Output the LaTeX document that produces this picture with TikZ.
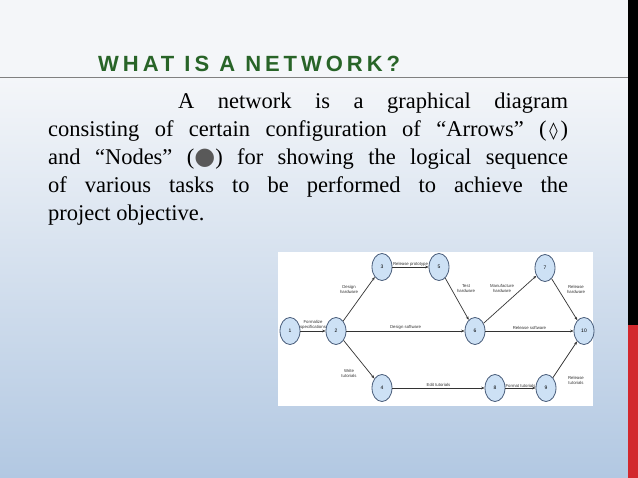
\documentclass[tikz,border=0pt]{standalone}
\usepackage{fontspec}
\setmainfont{Liberation Serif}
\setsansfont{Liberation Sans}
\newfontfamily\dejavu{DejaVu Sans}
\usetikzlibrary{arrows.meta,shapes.geometric}
\definecolor{titlegreen}{RGB}{40,100,40}
\definecolor{bgtop}{RGB}{244,246,249}
\definecolor{bgbot}{RGB}{178,200,226}
\definecolor{nodefill}{RGB}{205,225,245}
\definecolor{nodeline}{RGB}{70,90,120}
\definecolor{barred}{RGB}{210,40,45}
\tikzset{
 ev/.style={ellipse,draw=nodeline,fill=nodefill,line width=0.8pt,minimum width=20pt,minimum height=27pt,inner sep=0pt,font=\sffamily\fontsize{5}{5}\selectfont},
 act/.style={-{Stealth[length=3.5pt]},line width=0.7pt,black!80},
 lab/.style={font=\sffamily\fontsize{4.3}{5}\selectfont,align=center,text=black!80,inner sep=1pt}
}
\begin{document}
\begin{tikzpicture}[x=1pt,y=-1pt]
\useasboundingbox (0,0) rectangle (638,478);
\shade[top color=bgtop,bottom color=bgbot] (0,78) rectangle (628,478);
\fill[bgtop] (0,0) rectangle (628,78);
\draw[gray,line width=1pt] (0,78) -- (628,78);
\fill[black] (628,0) rectangle (638,325);
\fill[barred] (628,325) rectangle (638,478);
\node[font=\sffamily\bfseries\fontsize{22}{24}\selectfont\addfontfeature{LetterSpace=18},text=titlegreen,anchor=west,inner sep=0pt] (title) at (98,64) {WHAT IS A NETWORK?};
\node[anchor=north west,inner sep=0pt,text width=520pt,align=justify,font=\fontsize{22.5}{27.8}\selectfont] (body) at (48,93)
{\hspace*{130pt}A network is a graphical diagram\linebreak consisting of certain configuration of “Arrows” ({\dejavu\fontsize{17}{17}\selectfont\,◊\,})\linebreak and “Nodes” ({\dejavu\fontsize{24}{24}\selectfont\color{gray!70!black}●}) for showing the logical sequence\linebreak of various tasks to be performed to achieve the\linebreak project objective.};
\fill[white] (278,252) rectangle (593,406);
\node[ev] (n1) at (290,331) {1};
\node[ev] (n2) at (336,331) {2};
\node[ev] (n3) at (382,267) {3};
\node[ev] (n5) at (439,267) {5};
\node[ev] (n6) at (475,331) {6};
\node[ev] (n7) at (545,268) {7};
\node[ev] (n10) at (584,331) {10};
\node[ev] (n4) at (382,388) {4};
\node[ev] (n8) at (495,388) {8};
\node[ev] (n9) at (546,388) {9};
\draw[act] (n1) -- node[lab,above]{Formalize\\specifications} (n2);
\draw[act] (n2) -- (n3);
\draw[act] (n2) -- node[lab,above]{Design software} (n6);
\draw[act] (n2) -- (n4);
\draw[act] (n3) -- node[lab,above,yshift=-1pt]{Release prototype} (n5);
\draw[act] (n5) -- (n6);
\draw[act] (n6) -- (n7);
\draw[act] (n6) -- node[lab,above]{Release software} (n10);
\draw[act] (n7) -- (n10);
\draw[act] (n4) -- node[lab,above]{Edit tutorials} (n8);
\draw[act] (n8) -- node[lab,above,yshift=-1pt]{Format tutorials} (n9);
\draw[act] (n9) -- (n10);
\node[lab] (l1) at (349,289) {Design\\hardware};
\node[lab] (l2) at (349,373) {Write\\tutorials};
\node[lab] (l3) at (466,289) {Test\\hardware};
\node[lab] (l4) at (502,288) {Manufacture\\hardware};
\node[lab] (l5) at (576,289) {Release\\hardware};
\node[lab] (l6) at (576,380) {Release\\tutorials};
\end{tikzpicture}
\end{document}
